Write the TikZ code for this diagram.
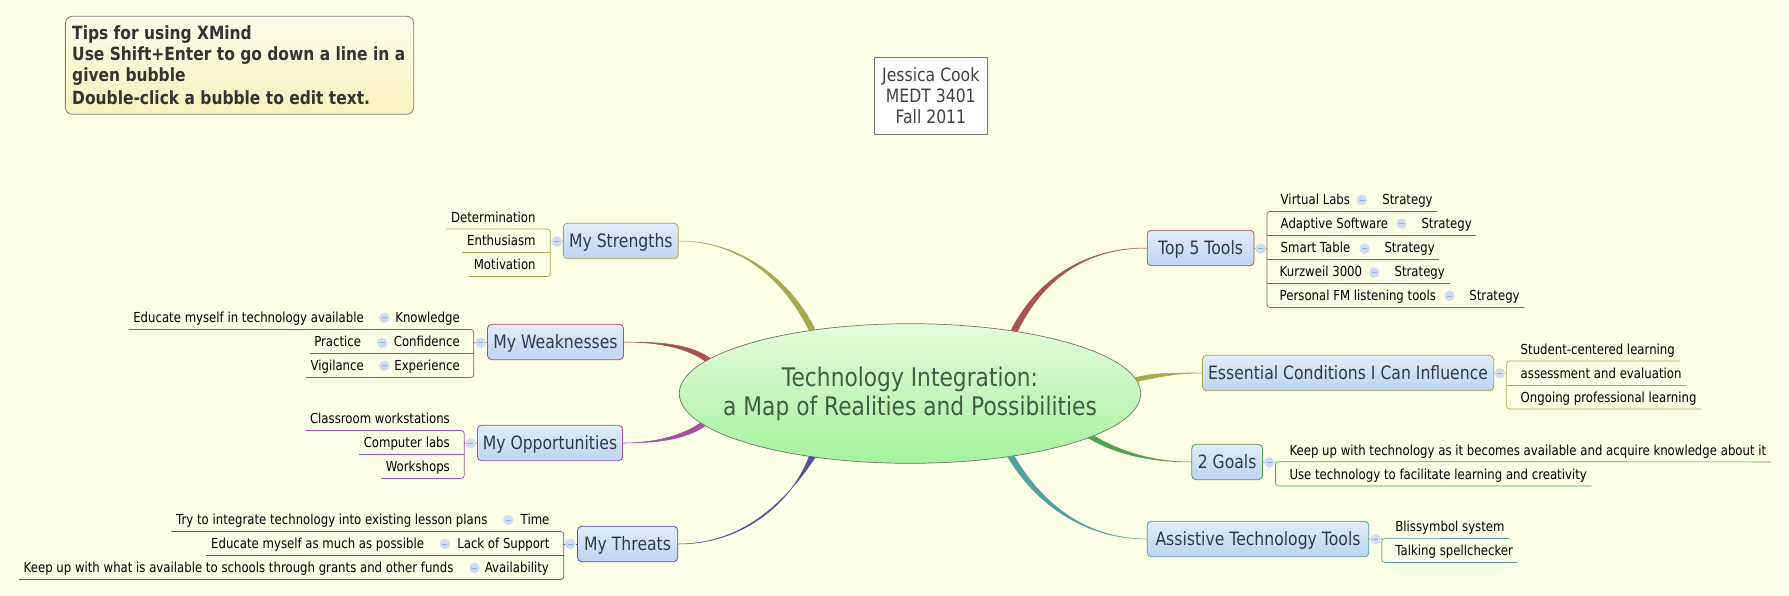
\documentclass[tikz,border=0pt]{standalone}
\usepackage{fontspec}
\setmainfont{DejaVu Sans}[FakeStretch=0.85]
\usetikzlibrary{shapes.geometric}
\definecolor{paper}{HTML}{FDFEE6}
\definecolor{oliveC}{HTML}{A8A94F}
\definecolor{redC}{HTML}{A85252}
\definecolor{purpleC}{HTML}{A552A0}
\definecolor{blueC}{HTML}{5452A8}
\definecolor{greenC}{HTML}{52A052}
\definecolor{tealC}{HTML}{52A0A0}
\definecolor{rootA}{HTML}{E4FBDA}
\definecolor{rootB}{HTML}{A6F29E}
\definecolor{rootT}{HTML}{3F5F45}
\definecolor{topicA}{HTML}{E2ECF9}
\definecolor{topicB}{HTML}{BDD4F2}
\definecolor{topicT}{HTML}{2F3B4D}
\definecolor{collapseC}{HTML}{CFDDF3}
\definecolor{minusC}{HTML}{8FAADB}
\definecolor{tipA}{HTML}{FEFDEC}
\definecolor{tipB}{HTML}{F7F1BC}
\tikzset{
	root/.style={ellipse,draw=black!55,line width=0.7pt,top color=rootA,bottom color=rootB,minimum width=461.4pt,minimum height=139.6pt,inner sep=0pt},
	topic/.style={draw,line width=0.8pt,rounded corners=4pt,top color=topicA,bottom color=topicB,minimum height=35.4pt,inner sep=0pt,text=topicT,text height=14pt,text depth=2pt,font=\fontsize{18.4}{21}\selectfont},
	item/.style={inner xsep=4.5pt,inner ysep=0pt,minimum height=22pt,text height=11pt,text depth=1.8pt,font=\fontsize{13.8}{16}\selectfont},
	collapse/.style={circle,fill=collapseC,minimum size=10.5pt,inner sep=0pt,path picture={\draw[minusC,line width=0.9pt] ([xshift=-2.5pt]path picture bounding box.center) -- ([xshift=2.5pt]path picture bounding box.center);}},
	rule/.style={line width=0.7pt},
	bar/.style={line width=0.7pt,rounded corners=3pt},
	branch/.style={line width=0.5pt,draw=#1,fill=#1},
}
\begin{document}
\begin{tikzpicture}[x=1pt,y=-1pt]
	\useasboundingbox[fill=paper] (0,0) rectangle (1789,595);

	\node[draw=black!50,line width=0.8pt,rounded corners=7pt,top color=tipA,bottom color=tipB,minimum width=348.3pt,minimum height=98pt,inner sep=0pt] (tips) at (239.5,65.3) {};
	\node[anchor=west,align=left,text=black!80,inner sep=0pt,font=\bfseries\fontsize{18.2}{21}\selectfont] (tipsT) at (72,65.4) {Tips for using XMind\\Use Shift+Enter to go down a line in a\\given bubble\\[2pt]Double-click a bubble to edit text.};
	\node[draw=black!55,line width=0.8pt,fill=white,minimum width=113.7pt,minimum height=76.5pt,inner sep=0pt,align=center,text=black!75,font=\fontsize{18.4}{21}\selectfont] (author) at (930.8,95.8) {Jessica Cook\\MEDT 3401\\Fall 2011};

	\node[root] (root) at (910,393.5) {};
	\node[align=center,inner sep=0pt,text=rootT,font=\fontsize{25.6}{28.7}\selectfont] (rootL) at (910,394) {Technology Integration:\\a Map of Realities and Possibilities};

	\node[topic,draw=oliveC,minimum width=114.9pt] (strengths) at (620.8,241) {My Strengths};
	\node[topic,draw=redC,minimum width=135.9pt] (weak) at (555.5,342) {My Weaknesses};
	\node[topic,draw=purpleC,minimum width=145.1pt] (opport) at (550,443) {My Opportunities};
	\node[topic,draw=blueC,minimum width=100.1pt] (threats) at (627.6,544) {My Threats};
	\node[topic,draw=redC,minimum width=106.8pt] (tools) at (1200.6,248) {Top 5 Tools};
	\node[topic,draw=oliveC,minimum width=291.3pt] (cond) at (1348,373) {Essential Conditions I Can Influence};
	\node[topic,draw=greenC,minimum width=70.6pt] (goals) at (1227.1,462) {2 Goals};
	\node[topic,draw=tealC,minimum width=221.6pt] (assist) at (1258,539) {Assistive Technology Tools};

	\draw[branch=oliveC] (root.146) .. controls (792.5,284) and (745,241) .. (strengths.east) .. controls (745,241) and (787.5,286) .. (root.148) -- cycle;
	\draw[branch=redC] (root.170.1) .. controls (689.5,343.8) and (660,342) .. (weak.east) .. controls (660,342) and (687,348.2) .. (root.171.1) -- cycle;
	\draw[branch=purpleC] (root.188.9) .. controls (682,435.7) and (655,443) .. (opport.east) .. controls (655,443) and (684,440.3) .. (root.189.9) -- cycle;
	\draw[branch=blueC] (root.212) .. controls (792.5,501) and (745,544) .. (threats.east) .. controls (745,544) and (787.5,499) .. (root.214) -- cycle;
	\draw[branch=redC] (root.30.6) .. controls (1038,289) and (1077,248) .. (tools.west) .. controls (1077,248) and (1033,287) .. (root.32.6) -- cycle;
	\draw[branch=oliveC] (root.3.4) .. controls (1155.4,377.5) and (1175,373) .. (cond.west) .. controls (1175,373) and (1154.6,372.5) .. (root.4.6) -- cycle;
	\draw[branch=greenC] (root.346.2) .. controls (1115,454) and (1150,462) .. (goals.west) .. controls (1150,462) and (1118,450) .. (root.347.4) -- cycle;
	\draw[branch=tealC] (root.327.4) .. controls (1034,501) and (1082,539) .. (assist.west) .. controls (1082,539) and (1039,499) .. (root.329.4) -- cycle;

	% left side
	\node[item,anchor=east] (deter) at (540.3,217.7) {Determination};
	\node[item,anchor=east] (enthu) at (540.3,241.3) {Enthusiasm};
	\node[item,anchor=east] (motiv) at (540.3,265.3) {Motivation};
	\node[collapse] (strengthsC) at (556.8,241.5) {};
	\coordinate (strengthsB) at (550.3,241.5);
	\draw[bar,oliveC] (deter.south west) -| (strengthsB) |- (motiv.south west);
	\draw[rule,oliveC] (enthu.south west) -- (enthu.south -| strengthsB);
	\draw[rule,oliveC] (strengthsB) -- (strengthsC.west) (strengthsC.east) -- (strengths.west);

	\node[item,anchor=east] (know) at (464.5,318.3) {Knowledge};
	\node[item,anchor=east] (edu) at (368.5,318.3) {Educate myself in technology available};
	\node[collapse] (knowC) at (384.3,317.7) {};
	\node[item,anchor=east] (conf) at (464.5,342.3) {Confidence};
	\node[item,anchor=east] (prac) at (365.8,342.3) {Practice};
	\node[collapse] (confC) at (382,342.7) {};
	\node[item,anchor=east] (exper) at (464.5,366.3) {Experience};
	\node[item,anchor=east] (vigil) at (368.5,366.3) {Vigilance};
	\node[collapse] (experC) at (384.3,365.7) {};
	\node[collapse] (weakC) at (480.7,342.7) {};
	\coordinate (weakB) at (473.8,342.7);
	\draw[bar,redC] (edu.south west) -| (weakB) |- (vigil.south west);
	\draw[rule,redC] (prac.south west) -- (prac.south -| weakB);
	\draw[rule,redC] (weakB) -- (weakC.west) (weakC.east) -- (weak.west);

	\node[item,anchor=east] (class) at (454.5,419.3) {Classroom workstations};
	\node[item,anchor=east] (comp) at (454.5,443.3) {Computer labs};
	\node[item,anchor=east] (works) at (454.5,467.3) {Workshops};
	\node[collapse] (opportC) at (470.6,443.3) {};
	\coordinate (opportB) at (464.2,443.3);
	\draw[bar,purpleC] (class.south west) -| (opportB) |- (works.south west);
	\draw[rule,purpleC] (comp.south west) -- (comp.south -| opportB);
	\draw[rule,purpleC] (opportB) -- (opportC.west) (opportC.east) -- (opport.west);

	\node[item,anchor=east] (time) at (554.1,520.3) {Time};
	\node[item,anchor=east] (integ) at (492.1,520.3) {Try to integrate technology into existing lesson plans};
	\node[collapse] (timeC) at (508.3,520) {};
	\node[item,anchor=east] (lack) at (554.1,544.3) {Lack of Support};
	\node[item,anchor=east] (self) at (428.7,544.3) {Educate myself as much as possible};
	\node[collapse] (lackC) at (444.9,544) {};
	\node[item,anchor=east] (avail) at (553.5,568.3) {Availability};
	\node[item,anchor=east] (funds) at (458.1,568.3) {Keep up with what is available to schools through grants and other funds};
	\node[collapse] (availC) at (474.7,568) {};
	\node[collapse] (threatsC) at (570.2,544) {};
	\coordinate (threatsB) at (563.8,544);
	\draw[bar,blueC] (integ.south west) -| (threatsB) |- (funds.south west);
	\draw[rule,blueC] (self.south west) -- (self.south -| threatsB);
	\draw[rule,blueC] (threatsB) -- (threatsC.west) (threatsC.east) -- (threats.west);

	% right side
	\node[item,anchor=west] (virt) at (1276,200.3) {Virtual Labs};
	\node[collapse] (virtC) at (1362,200) {};
	\node[item,anchor=west] (virtS) at (1377.7,199.7) {Strategy};
	\node[item,anchor=west] (adap) at (1276,224.3) {Adaptive Software};
	\node[collapse] (adapC) at (1401.5,223.7) {};
	\node[item,anchor=west] (adapS) at (1416.8,224) {Strategy};
	\node[item,anchor=west] (smart) at (1276,248.3) {Smart Table};
	\node[collapse] (smartC) at (1364.6,248.7) {};
	\node[item,anchor=west] (smartS) at (1379.8,247.7) {Strategy};
	\node[item,anchor=west] (kurz) at (1275,272.3) {Kurzweil 3000};
	\node[collapse] (kurzC) at (1374.2,272.7) {};
	\node[item,anchor=west] (kurzS) at (1389.9,271.7) {Strategy};
	\node[item,anchor=west] (fm) at (1275,296.3) {Personal FM listening tools};
	\node[collapse] (fmC) at (1449.5,296) {};
	\node[item,anchor=west] (fmS) at (1464.7,296) {Strategy};
	\node[collapse] (toolsC) at (1260.7,248.7) {};
	\coordinate (toolsB) at (1267,248.7);
	\draw[bar,redC] (virt.south -| virtS.east) -| (toolsB) |- (fm.south -| fmS.east);
	\draw[rule,redC] (adap.south -| adapS.east) -- (adap.south -| toolsB);
	\draw[rule,redC] (smart.south -| smartS.east) -- (smart.south -| toolsB);
	\draw[rule,redC] (kurz.south -| kurzS.east) -- (kurz.south -| toolsB);
	\draw[rule,redC] (tools.east) -- (toolsC.west) (toolsC.east) -- (toolsB);

	\node[item,anchor=west] (stud) at (1516,349.7) {Student-centered learning};
	\node[item,anchor=west] (assess) at (1516,373.7) {assessment and evaluation};
	\node[item,anchor=west] (ongo) at (1516,397.7) {Ongoing professional learning};
	\node[collapse] (condC) at (1499.9,373.3) {};
	\coordinate (condB) at (1506.6,373.3);
	\draw[bar,oliveC] (stud.south east) -| (condB) |- (ongo.south east);
	\draw[rule,oliveC] (assess.south east) -- (assess.south -| condB);
	\draw[rule,oliveC] (cond.east) -- (condC.west) (condC.east) -- (condB);

	\node[item,anchor=west] (keep) at (1284.8,450.7) {Keep up with technology as it becomes available and acquire knowledge about it};
	\node[item,anchor=west] (facil) at (1284.8,474.7) {Use technology to facilitate learning and creativity};
	\node[collapse] (goalsC) at (1269.1,462.3) {};
	\coordinate (goalsB) at (1275.4,461.7);
	\draw[bar,greenC] (keep.south east) -- (goalsB) |- (facil.south east);
	\draw[rule,greenC] (goals.east) -- (goalsC.west) (goalsC.east) -- (goalsB);

	\node[item,anchor=west] (bliss) at (1390.7,527.3) {Blissymbol system};
	\node[item,anchor=west] (talk) at (1390.7,551.3) {Talking spellchecker};
	\node[collapse] (assistC) at (1375.5,539.3) {};
	\coordinate (assistB) at (1381.8,538.3);
	\draw[bar,tealC] (bliss.south east) -- (assistB) |- (talk.south east);
	\draw[rule,tealC] (assist.east) -- (assistC.west) (assistC.east) -- (assistB);
\end{tikzpicture}
\end{document}
